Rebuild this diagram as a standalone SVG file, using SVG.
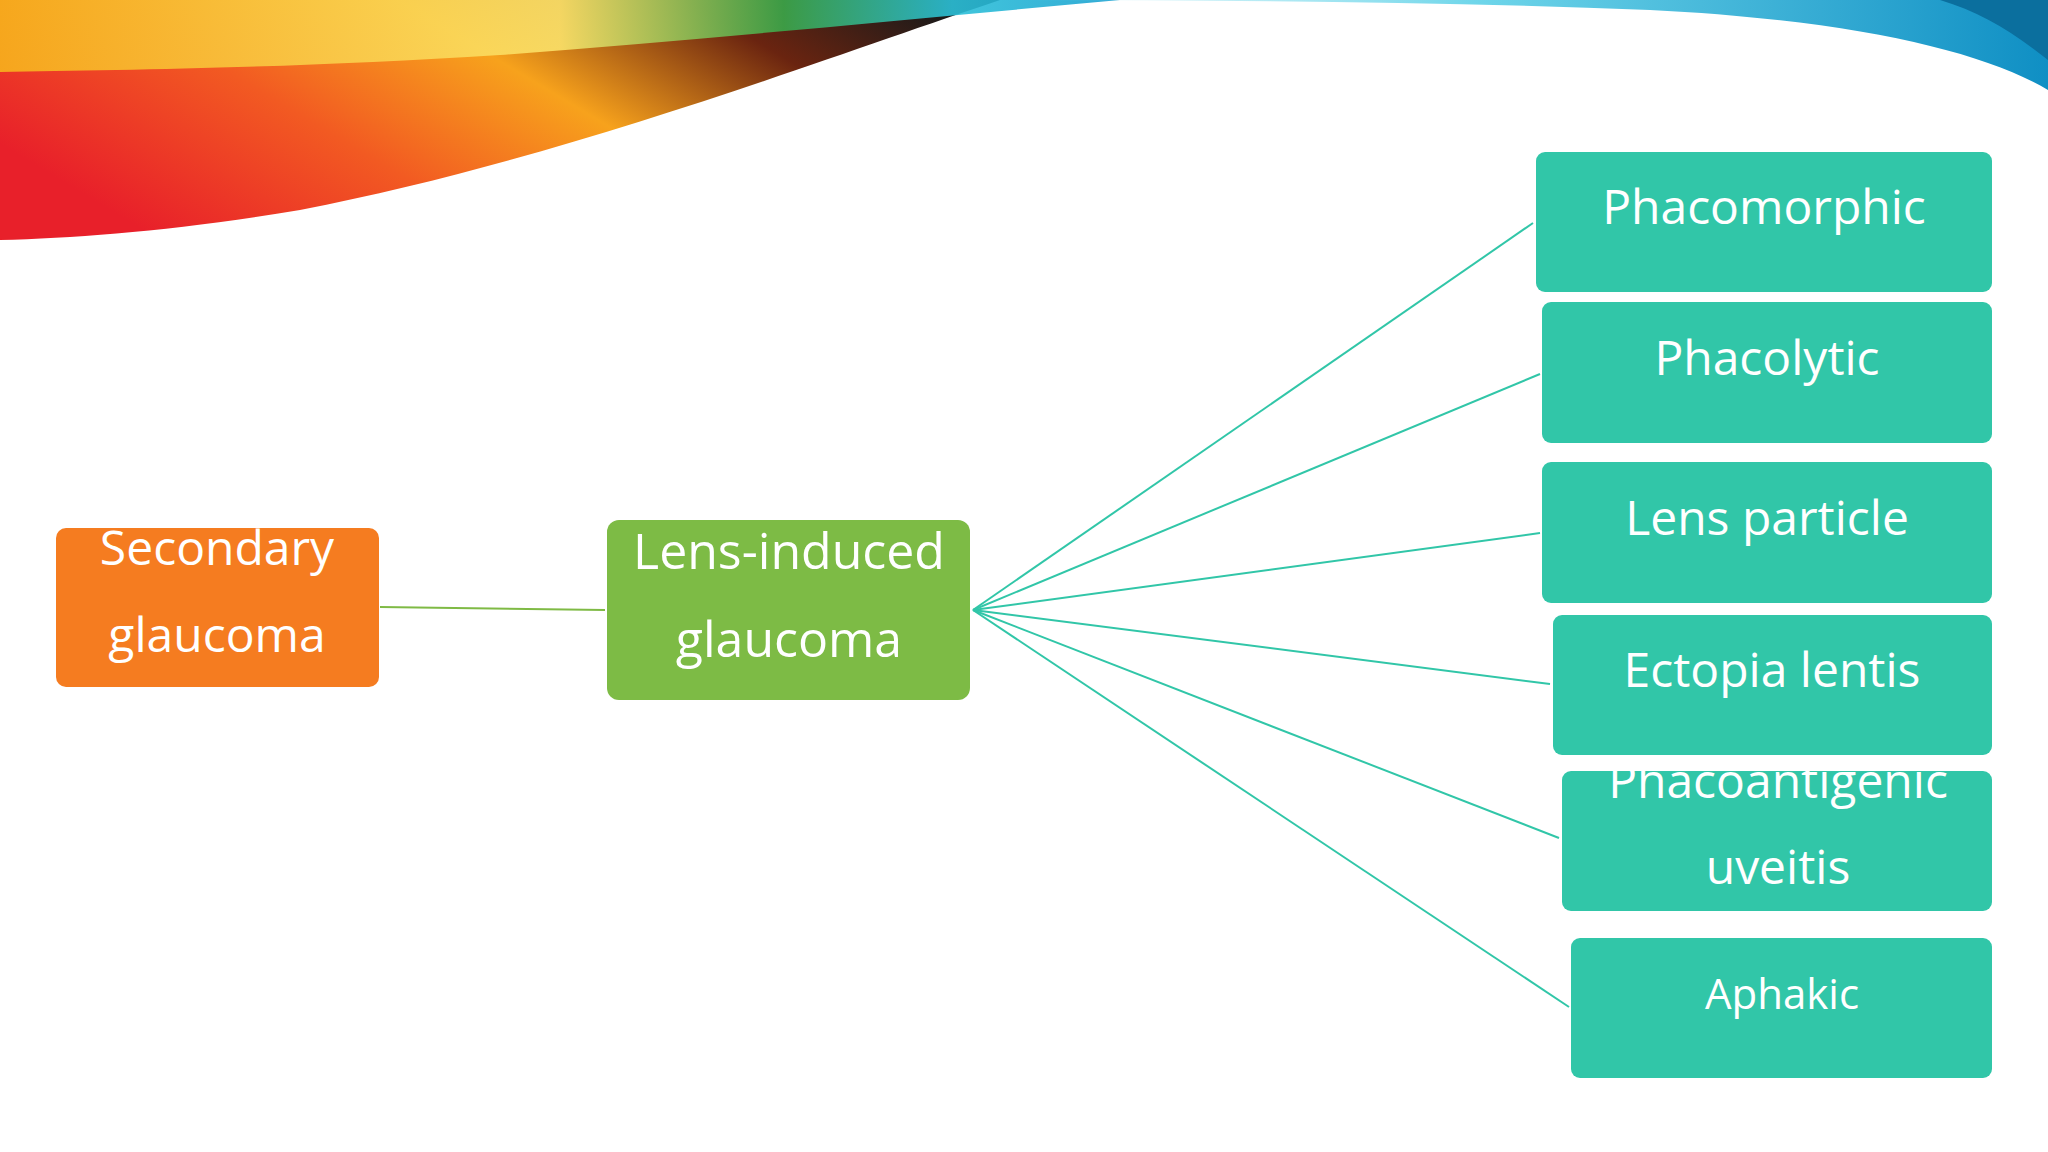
<svg xmlns="http://www.w3.org/2000/svg" width="2048" height="1152" viewBox="0 0 2048 1152">
<defs>
<linearGradient id="warm" x1="0" y1="0.6" x2="1" y2="0.2">
<stop offset="0" stop-color="#e8202a"/>
<stop offset="0.3" stop-color="#f25a22"/>
<stop offset="0.55" stop-color="#f7a21c"/>
<stop offset="0.8" stop-color="#6a2410"/>
<stop offset="1" stop-color="#1a1a1a"/>
</linearGradient>
<linearGradient id="top" x1="0" y1="0" x2="1" y2="0">
<stop offset="0" stop-color="#f7b21c"/>
<stop offset="0.5" stop-color="#fbe26a"/>
<stop offset="0.7" stop-color="#3aa84a"/>
<stop offset="0.85" stop-color="#2cc0d8"/>
<stop offset="1" stop-color="#1aa0d0"/>
</linearGradient>
<linearGradient id="cyan" x1="0" y1="0" x2="1" y2="0">
<stop offset="0" stop-color="#b8ecf4" stop-opacity="0"/>
<stop offset="0.5" stop-color="#6fd6ea"/>
<stop offset="1" stop-color="#0f8fc4"/>
</linearGradient>
<style>
.t{font-family:"Open Sans","Noto Sans",sans-serif;fill:#fff;text-anchor:middle}
.teal{fill:#31c6a8}
.ln{stroke:#31c6a8;stroke-width:2;fill:none}
</style>
</defs>
<rect width="2048" height="1152" fill="#fff"/>
<g id="decor">
<path d="M0,0 H1000 C820,60 560,160 300,210 C180,230 80,238 0,240 Z" fill="url(#warm)"/>
<path d="M0,0 H1120 C900,20 700,40 500,55 C300,68 120,70 0,72 Z" fill="url(#top)" opacity="0.9"/>
<path d="M900,0 H2048 V90 C1980,50 1850,20 1650,10 C1400,0 1150,0 900,0 Z" fill="url(#cyan)"/>
<path d="M1940,0 H2048 V60 C2010,30 1980,12 1940,0 Z" fill="#0b6f9e"/>
</g>
<g id="connectors">
<line x1="380" y1="607" x2="605" y2="610" stroke="#7fba45" stroke-width="2"/>
<line class="ln" x1="973" y1="610" x2="1533" y2="223"/>
<line class="ln" x1="973" y1="610" x2="1540" y2="374"/>
<line class="ln" x1="973" y1="610" x2="1540" y2="533"/>
<line class="ln" x1="973" y1="610" x2="1550" y2="684"/>
<line class="ln" x1="973" y1="610" x2="1559" y2="838"/>
<line class="ln" x1="973" y1="610" x2="1569" y2="1007"/>
</g>
<g id="secondary">
<rect x="56" y="528" width="323" height="159" rx="10" fill="#f57c20"/>
<text class="t" x="217" y="565" font-size="48">Secondary</text>
<text class="t" x="217" y="652" font-size="48">glaucoma</text>
</g>
<g id="lens-induced">
<rect x="607" y="520" width="363" height="180" rx="12" fill="#7dbb45"/>
<text class="t" x="789" y="569" font-size="50">Lens-induced</text>
<text class="t" x="789" y="657" font-size="50">glaucoma</text>
</g>
<g id="phacomorphic">
<rect class="teal" x="1536" y="152" width="456" height="140" rx="9"/>
<text class="t" x="1764" y="224" font-size="48">Phacomorphic</text>
</g>
<g id="phacolytic">
<rect class="teal" x="1542" y="302" width="450" height="141" rx="9"/>
<text class="t" x="1767" y="375" font-size="48">Phacolytic</text>
</g>
<g id="lens-particle">
<rect class="teal" x="1542" y="462" width="450" height="141" rx="9"/>
<text class="t" x="1767" y="535" font-size="48">Lens particle</text>
</g>
<g id="ectopia">
<rect class="teal" x="1553" y="615" width="439" height="140" rx="9"/>
<text class="t" x="1772" y="687" font-size="48">Ectopia lentis</text>
</g>
<g id="phacoantigenic">
<rect class="teal" x="1562" y="771" width="430" height="140" rx="9"/>
<text class="t" x="1778" y="798" font-size="48">Phacoantigenic</text>
<text class="t" x="1778" y="884" font-size="48">uveitis</text>
</g>
<g id="aphakic">
<rect class="teal" x="1571" y="938" width="421" height="140" rx="9"/>
<text class="t" x="1782" y="1009" font-size="42">Aphakic</text>
</g>
</svg>
